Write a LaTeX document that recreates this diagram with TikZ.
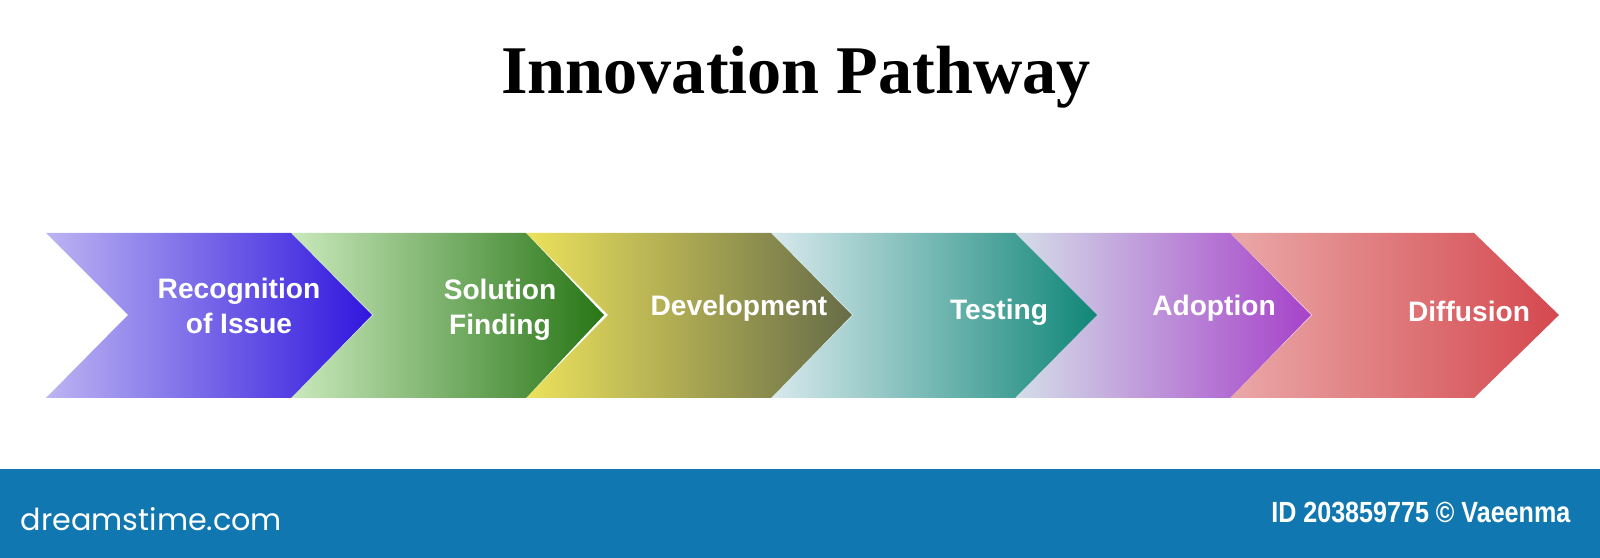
\documentclass[tikz,border=0pt]{standalone}
\usepackage{fontspec}
\setmainfont{Liberation Serif}
\setsansfont{Liberation Sans}
\newfontfamily\bannerfont{Poppins}

% step colours (left -> right)
\definecolor{recogL}{RGB}{188,180,242}
\definecolor{recogR}{RGB}{48,22,222}
\definecolor{solL}{RGB}{202,233,188}
\definecolor{solR}{RGB}{40,118,22}
\definecolor{devL}{RGB}{236,226,92}
\definecolor{devR}{RGB}{102,108,72}
\definecolor{testL}{RGB}{216,233,237}
\definecolor{testR}{RGB}{16,134,120}
\definecolor{adoptL}{RGB}{212,222,232}
\definecolor{adoptR}{RGB}{166,66,202}
\definecolor{diffL}{RGB}{234,168,168}
\definecolor{diffR}{RGB}{212,72,78}
\definecolor{banner}{RGB}{16,119,176}

\tikzset{
  steptext/.style={text=white, font=\sffamily\bfseries\fontsize{8}{9.8}\selectfont, align=center},
}

% #1 left, #2 shoulder, #3 tip, #4 left colour, #5 right colour
\newcommand{\chevron}[5]{%
  \path[left color=#4, right color=#5]
    (#1,233) -- (#2,233) -- (#3,315) -- (#2,398) -- (#1,398) -- ({#1+82},315) -- cycle;
}

\begin{document}
\begin{tikzpicture}[x=0.01cm, y=-0.01cm]
    \useasboundingbox (0,0) rectangle (1600,558);

    % Title
    \node[font=\bfseries\fontsize{19.4}{23}\selectfont, anchor=base] (title) at (796,94) {Innovation Pathway};

    % Chevrons, drawn right to left so each tip lies on the next one
    \chevron{1230}{1474}{1559}{diffL}{diffR}
    \chevron{1015}{1230}{1311}{adoptL}{adoptR}
    \chevron{771}{1015}{1097}{testL}{testR}
    \chevron{526}{771}{852}{devL}{devR}
    \chevron{291}{526}{604}{solL}{solR}
    \chevron{46}{291}{372}{recogL}{recogR}

    % Labels
    \node[steptext] (recog) at (239,306) {Recognition\\of Issue};
    \node[steptext] (sol)   at (500,310) {Solution\\Finding};
    \node[steptext] (dev)   at (739,308) {Development};
    \node[steptext] (test)  at (999,312) {Testing};
    \node[steptext] (adopt) at (1214,308) {Adoption};
    \node[steptext] (diff)  at (1469,311) {Diffusion};

    % Banner
    \fill[banner] (0,469) rectangle (1600,558);
    \node[text=white, anchor=base west, inner sep=0pt, font=\bannerfont\fontsize{8.6}{10}\selectfont] (site) at (20,530) {dreamstime.com};
    \node[text=white, anchor=base east, inner sep=0pt, font=\sffamily\bfseries\fontsize{8.3}{10}\selectfont] (imgid) at (1571,522)
        {\scalebox{0.86}[1]{ID 203859775 © Vaeenma}};
\end{tikzpicture}
\end{document}
